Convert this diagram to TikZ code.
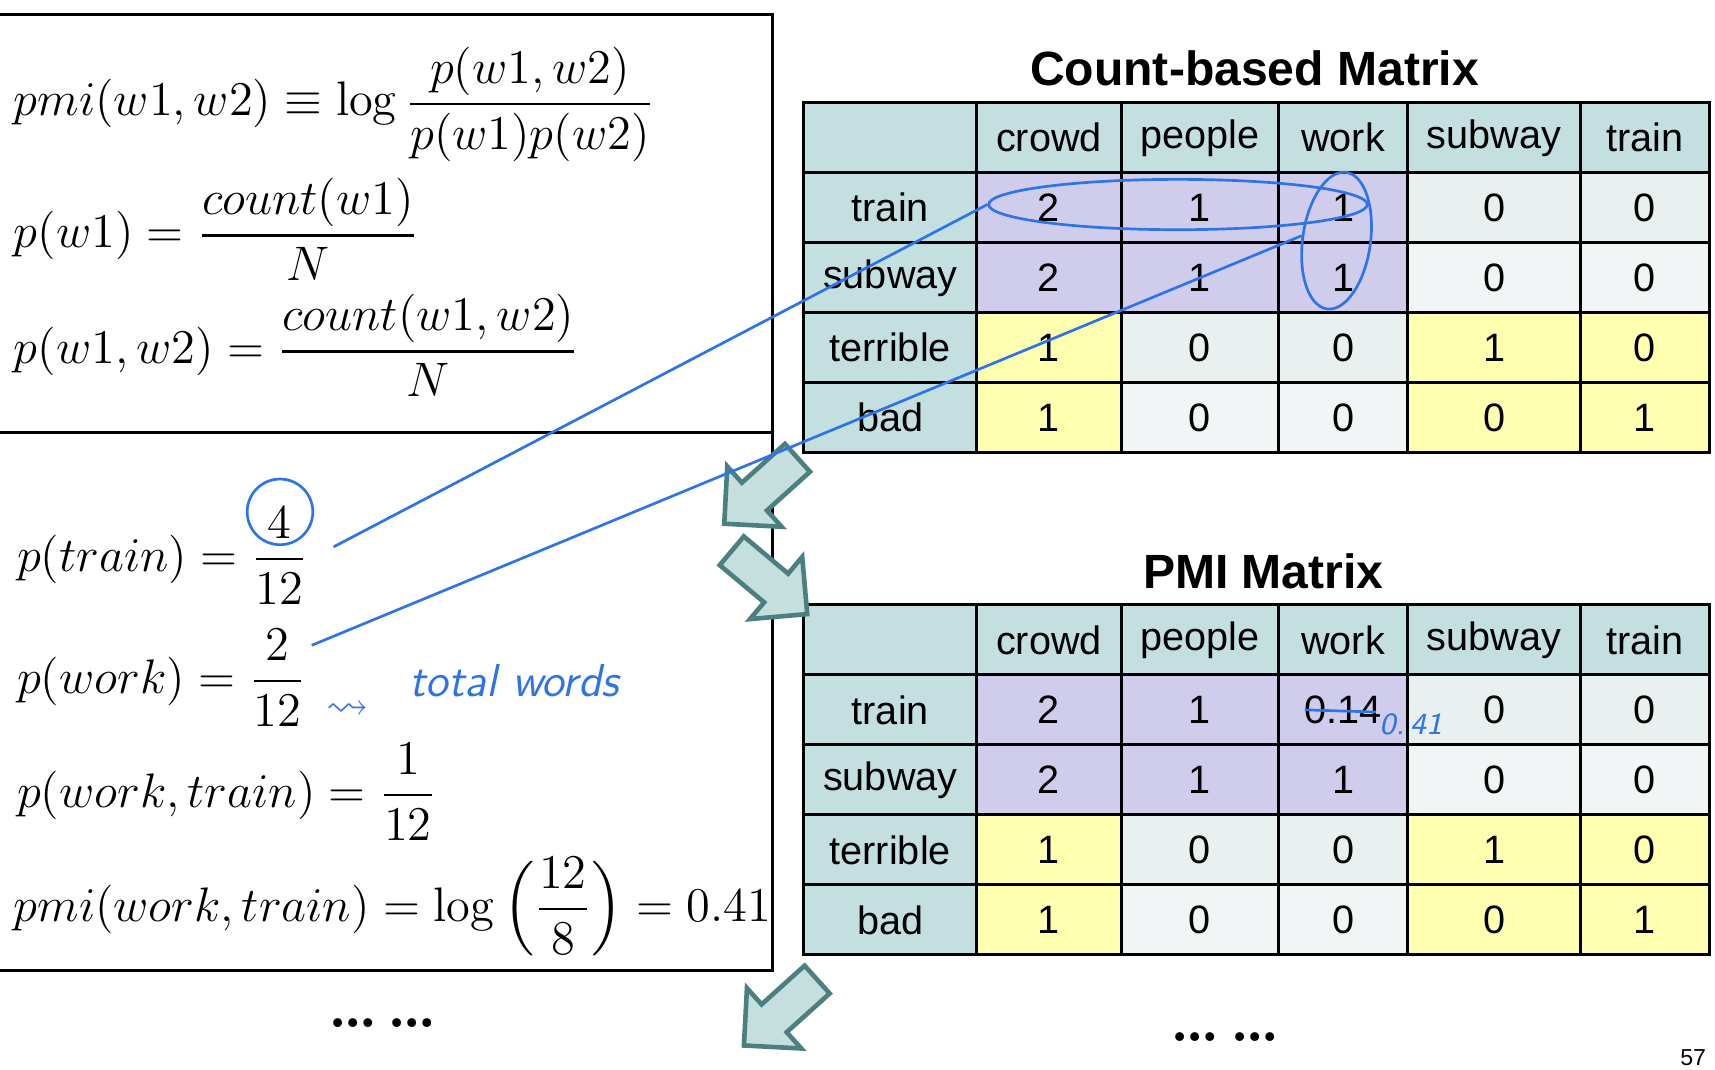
\documentclass[tikz,border=0pt]{standalone}
\usepackage{amssymb}
\usepackage{graphicx}
\usepackage[no-math]{fontspec}
\newfontfamily\arial{Liberation Sans}
\usetikzlibrary{shapes.arrows,shapes.geometric}
\definecolor{head}{HTML}{C3DFE0}
\definecolor{purp}{HTML}{D0CDEC}
\definecolor{yell}{HTML}{FFFFB0}
\definecolor{gra}{HTML}{E8F0F0}
\definecolor{grb}{HTML}{F2F5F5}
\definecolor{pen}{HTML}{2F74E6}
\definecolor{bigarrow}{HTML}{C5DEDE}
\newcommand\eqbox[1]{\scalebox{1.05}{$\displaystyle #1$}}
\begin{document}
\begin{tikzpicture}[x=0.01cm,y=-0.01cm,
    cell/.style={draw=black,line width=0.8pt,minimum height=0.64cm,inner sep=0pt,font=\arial\fontsize{10.3}{12}\selectfont},
    title/.style={font=\arial\bfseries\fontsize{12.5}{15}\selectfont},
    eq/.style={anchor=west,inner sep=0pt,font=\fontsize{13}{16}\selectfont},
    note/.style={pen,line width=0.7pt},
    down arrow/.style={single arrow,draw=gray!60!teal,fill=bigarrow,line width=1.2pt,minimum height=0.9cm,inner xsep=0pt,inner ysep=0.15cm,single arrow head extend=0.2cm}]
  \useasboundingbox (0,0) rectangle (1568,978);

  % left frames
  \draw[line width=0.8pt] (0,13) -- (706,13) -- (706,887) -- (0,887);
  \draw[line width=0.8pt] (0,395) -- (706,395);

  % formulas
  \node[eq] (pmidef) at (12,95) {\eqbox{pmi(w1,w2)\equiv\log\frac{p(w1,w2)}{p(w1)p(w2)}}};
  \node[eq] (pone) at (12,210) {\eqbox{p(w1)=\frac{count(w1)}{N}}};
  \node[eq] (ptwo) at (12,316) {\eqbox{p(w1,w2)=\frac{count(w1,w2)}{N}}};
  \node[eq] (ptrain) at (15,508) {\eqbox{p(train)=\frac{4}{12}}};
  \node[eq] (pwork) at (15,620) {\eqbox{p(work)=\frac{2}{12}}};
  \node[eq] (pboth) at (15,724) {\eqbox{p(work,train)=\frac{1}{12}}};
  \node[eq] (pmival) at (12,829) {\eqbox{pmi(work,train)=\log\left(\frac{12}{8}\right)=0.41}};
  \node[font=\fontsize{16}{18}\selectfont\bfseries] (dotsl) at (350,935) {\dots\,\dots};
  \node[font=\fontsize{16}{18}\selectfont\bfseries] (dotsr) at (1120,948) {\dots\,\dots};
  \node[font=\arial\fontsize{6}{7}\selectfont] (page) at (1548,967) {57};

  % titles
  \node[title] (ctitle) at (1147,62) {Count-based Matrix};
  \node[title] (ptitle) at (1155,522) {PMI Matrix};

  % two tables
  \foreach \tab/\top/\mid in {c/94/1, p/553/0.14}{
    \foreach [count=\c] \lab in {crowd,people,work,subway,train}{
      \pgfmathsetmacro\x{{959,1097,1228,1366,1504}[\c-1]}
      \pgfmathsetmacro\w{{132,144,118,158,118}[\c-1]}
      \node[cell,fill=head,minimum width=\w*0.01cm] (\tab h\c) at (\x,\top+32) {\lab};
    }
    \node[cell,fill=head,minimum width=1.58cm] (\tab h0) at (814,\top+32) {};
    \foreach [count=\r] \lab/\row in {train/{2/purp,1/purp,\mid/purp,0/gra,0/gra},
        subway/{2/purp,1/purp,1/purp,0/grb,0/grb},
        terrible/{1/yell,0/gra,0/gra,1/yell,0/yell},
        bad/{1/yell,0/grb,0/grb,0/yell,1/yell}}{
      \node[cell,fill=head,minimum width=1.58cm] (\tab\r0) at (814,\top+32+64*\r) {\lab};
      \foreach [count=\c] \v/\f in \row{
        \pgfmathsetmacro\x{{959,1097,1228,1366,1504}[\c-1]}
        \pgfmathsetmacro\w{{132,144,118,158,118}[\c-1]}
        \node[cell,fill=\f,minimum width=\w*0.01cm] (\tab\r\c) at (\x,\top+32+64*\r) {\v};
      }
    }
  }

  % big arrows
  \node[down arrow,rotate=-138] (arrowa) at (702,443) {};
  \node[down arrow,rotate=-40] (arrowb) at (697,527) {};
  \node[down arrow,rotate=-138] (arrowc) at (720,920) {};

  % pen notes
  \node[note,draw,ellipse,minimum width=3.46cm,minimum height=0.46cm,inner sep=0pt] (rowring) at (1077,187) {};
  \node[note,draw,ellipse,minimum width=0.62cm,minimum height=1.26cm,inner sep=0pt,rotate=-8] (colring) at (1222,220) {};
  \node[note,draw,circle,minimum size=0.6cm,inner sep=0pt] (fourring) at (256,468) {};
  \coordinate (trainend) at (305,500);
  \coordinate (workend) at (285,590);
  \draw[note] (trainend) -- (rowring.west);
  \draw[note] (workend) -- (colring.west);
  \node[note,font=\sffamily\itshape\fontsize{12}{14}\selectfont] (total) at (470,622) {total words};
  \node[note,font=\fontsize{11}{12}\selectfont] (squig) at (318,650) {$\rightsquigarrow$};
  \draw[note] ([xshift=-0.35cm]p13.center) -- ([xshift=0.3cm,yshift=-0.02cm]p13.center);
  \node[note,font=\sffamily\itshape\fontsize{8}{9}\selectfont] (fix) at (1290,662) {0.\,41};
\end{tikzpicture}
\end{document}
